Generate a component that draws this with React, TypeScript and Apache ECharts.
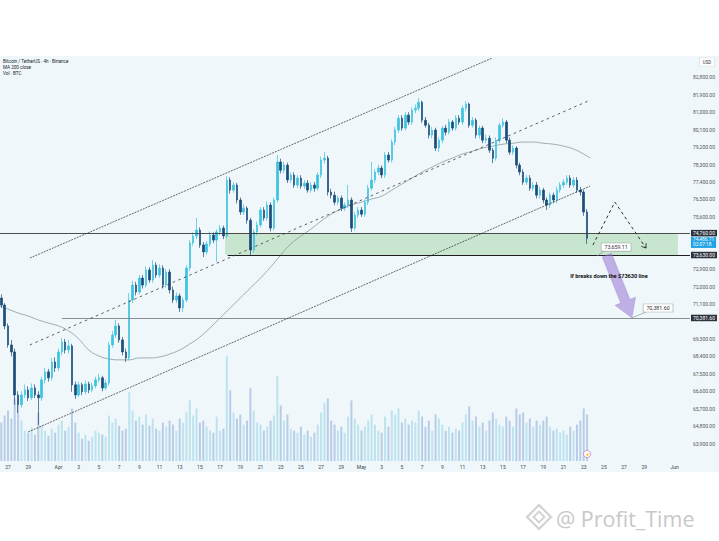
import React, { useEffect, useRef } from "react";
import * as echarts from "echarts";

// ---------- data ----------
const FIRST_CANDLE = Date.UTC(2024, 2, 26, 8);
const CANDLE_MS = 8 * 3600 * 1000;
const DAY_MS = 86400000;

// [open, close, low, high]
const ohlc: number[][] = [
  [71410, 71050, 70900, 71600], [71050, 69970, 69800, 71150], [69970, 68990, 68850, 70100], [68990, 68630, 68400, 69250],
  [68630, 66410, 65900, 68800], [66410, 65900, 65480, 66600], [65900, 66410, 65750, 66600], [66410, 66670, 66250, 66950],
  [66670, 66260, 66100, 66850], [66260, 66770, 66150, 67000], [66770, 66410, 66250, 66950], [66410, 66260, 64870, 66600],
  [66260, 67190, 66100, 67350], [67190, 67600, 67000, 67800], [67600, 67290, 67100, 67750], [67290, 68110, 67150, 68300],
  [68110, 67800, 67600, 68350], [67800, 68630, 67650, 68800], [68630, 69140, 68450, 69350], [69140, 68730, 68550, 69300],
  [68730, 68940, 68550, 69250], [68940, 66930, 66570, 69050], [66930, 66410, 66200, 67100], [66410, 66930, 66300, 67100],
  [66930, 66570, 66400, 67050], [66570, 66980, 66450, 67150], [66980, 66670, 66500, 67100], [66670, 66880, 66550, 67050],
  [66880, 67190, 66750, 67350], [67190, 67290, 67050, 67500], [67290, 66770, 66600, 67400], [66770, 67030, 66650, 67200],
  [67030, 68990, 66900, 69150], [68990, 69500, 68850, 69700], [69500, 69970, 69350, 70280], [69970, 69250, 69100, 70100],
  [69250, 68630, 68450, 69400], [68630, 68320, 68110, 68800], [68320, 71310, 68200, 71670], [71310, 72080, 71150, 72300],
  [72080, 71720, 71550, 72250], [71720, 72440, 71600, 72600], [72440, 72080, 71900, 72600], [72080, 72860, 71950, 73050],
  [72860, 72340, 72200, 73000], [72340, 73110, 72200, 73370], [73110, 72600, 72450, 73250], [72600, 72960, 72450, 73150],
  [72960, 72080, 71900, 73100], [72080, 72750, 71950, 72900], [72750, 71830, 71650, 72900], [71830, 71310, 71150, 72000],
  [71310, 71520, 71150, 71700], [71520, 70900, 70690, 71650], [70900, 71310, 70690, 71450], [71310, 72960, 71200, 73100],
  [72960, 74250, 72800, 74400], [74250, 74610, 74100, 74800], [74610, 74920, 74450, 75540], [74920, 74150, 74000, 75050],
  [74150, 73790, 73530, 74300], [73790, 74200, 73650, 74350], [74200, 74660, 74050, 74850], [74660, 74400, 74250, 74800],
  [74400, 74820, 73270, 74950], [74820, 75020, 74650, 75180], [75020, 74610, 74450, 75150], [74610, 77500, 74500, 77700],
  [77500, 76980, 76800, 77650], [76980, 77240, 76850, 77400], [77240, 76470, 76300, 77350], [76470, 75850, 75700, 76600],
  [75850, 76050, 75700, 76250], [76050, 75430, 75250, 76150], [75430, 73890, 73630, 75550], [73890, 74820, 73750, 74950],
  [74820, 75180, 74650, 75350], [75180, 75950, 75050, 76100], [75950, 75540, 75400, 76100], [75540, 76210, 75400, 76400],
  [76210, 75020, 74850, 76350], [75020, 76470, 74900, 76600], [76470, 78430, 76350, 78790], [78430, 78010, 77850, 78600],
  [78010, 78270, 77850, 78450], [78270, 77500, 77350, 78400], [77500, 77760, 77350, 77900], [77760, 77240, 77100, 77900],
  [77240, 77600, 77100, 77750], [77600, 77190, 77050, 77750], [77190, 77340, 77050, 77500], [77340, 76980, 76850, 77500],
  [76980, 77240, 76850, 77400], [77240, 77080, 76900, 77400], [77080, 77760, 76950, 77900], [77760, 78530, 77600, 78700],
  [78530, 78630, 78350, 78940], [78630, 76880, 76700, 78750], [76880, 76720, 76550, 77050], [76720, 76360, 76200, 76900],
  [76360, 76570, 76200, 76700], [76570, 76050, 75900, 76700], [76050, 76210, 75900, 76350], [76210, 76470, 76050, 77240],
  [76470, 75020, 74820, 76600], [75020, 75690, 74900, 75850], [75690, 75950, 75550, 76100], [75950, 75740, 75600, 76100],
  [75740, 76360, 75600, 76500], [76360, 77080, 76200, 77250], [77080, 77500, 76950, 78430], [77500, 77910, 77350, 78050],
  [77910, 78120, 77750, 78300], [78120, 77760, 77600, 78250], [77760, 78790, 77600, 78950], [78790, 78530, 78400, 78950],
  [78530, 79460, 78400, 79600], [79460, 80080, 79300, 80250], [80080, 80690, 79950, 80850], [80690, 80180, 80050, 80850],
  [80180, 80850, 80050, 81000], [80850, 80490, 80350, 81000], [80490, 81110, 80350, 81250], [81110, 81210, 80950, 81400],
  [81210, 81520, 81050, 81730], [81520, 80590, 80450, 81600], [80590, 80330, 80200, 80750], [80330, 79820, 79650, 80450],
  [79820, 80080, 79650, 80250], [80080, 79150, 79000, 80200], [79150, 79560, 78940, 79700], [79560, 80180, 79400, 80300],
  [80180, 79970, 79800, 80350], [79970, 80490, 79850, 80650], [80490, 80180, 80050, 80600], [80180, 80690, 80050, 80850],
  [80690, 80490, 80350, 80850], [80490, 81210, 80350, 81350], [81210, 81420, 81050, 81570], [81420, 80330, 80200, 81500],
  [80330, 80590, 80200, 80750], [80590, 79820, 79650, 80700], [79820, 80180, 79650, 80300], [80180, 79560, 79400, 80300],
  [79560, 79660, 79400, 79850], [79660, 79040, 78900, 79800], [79040, 78630, 78370, 79150], [78630, 79560, 78500, 79700],
  [79560, 80330, 79400, 80450], [80330, 80490, 80200, 80690], [80490, 79560, 79400, 80600], [79560, 78940, 78800, 79700],
  [78940, 79150, 78800, 79300], [79150, 78270, 78100, 79250], [78270, 77910, 77750, 78400], [77910, 77390, 77250, 78050],
  [77390, 77600, 77250, 77750], [77600, 77080, 76950, 77750], [77080, 77240, 76950, 77400], [77240, 76720, 76550, 77400],
  [76720, 76980, 76550, 77150], [76980, 76470, 76300, 77100], [76470, 76210, 75950, 76600], [76210, 76720, 76050, 76850],
  [76720, 76470, 76300, 76850], [76470, 76980, 76300, 77150], [76980, 77240, 76850, 77400], [77240, 77390, 77100, 77550],
  [77390, 77600, 77250, 77750], [77600, 77240, 77100, 77750], [77240, 77500, 77100, 77650], [77500, 76980, 76850, 77650],
  [76980, 76880, 76700, 77150], [76880, 75850, 75650, 77000], [75850, 74487, 74200, 76000],
];

const volume: number[] = [
  38, 45, 50, 42, 62, 55, 40, 30, 28, 33,
  26, 48, 35, 30, 25, 32, 28, 36, 40, 30,
  34, 52, 38, 28, 22, 26, 20, 24, 30, 28,
  26, 24, 45, 38, 42, 35, 30, 32, 68, 50,
  40, 44, 36, 46, 35, 42, 32, 30, 38, 34,
  40, 36, 30, 42, 38, 48, 60, 45, 52, 38,
  40, 34, 30, 28, 44, 30, 32, 104, 70, 48,
  42, 46, 36, 40, 72, 50, 38, 36, 30, 34,
  40, 45, 84, 55, 40, 46, 32, 30, 28, 34,
  26, 30, 24, 28, 36, 48, 58, 62, 40, 36,
  30, 34, 28, 44, 60, 42, 36, 30, 34, 40,
  46, 36, 30, 28, 44, 34, 50, 46, 52, 38,
  42, 36, 40, 38, 50, 44, 34, 40, 30, 46,
  42, 36, 30, 34, 28, 32, 30, 38, 46, 54,
  40, 44, 34, 38, 30, 40, 48, 42, 36, 34,
  44, 40, 34, 52, 46, 48, 38, 42, 34, 40,
  36, 40, 44, 34, 30, 32, 28, 30, 26, 34,
  30, 36, 40, 52, 46,
];

// daily moving average, from 2024-03-26 00:00 UTC
const MA_START = Date.UTC(2024, 2, 26);
const maDaily: number[] = [
  71050, 70840, 70640, 70480, 70280, 70120, 69970, 69710, 69300, 68730,
  68420, 68270, 68220, 68220, 68320, 68320, 68370, 68520, 68730, 69040,
  69400, 69870, 70380, 70900, 71410, 71930, 72440, 73010, 73630, 74200,
  74610, 74970, 75380, 75740, 76000, 76210, 76360, 76520, 76670, 76980,
  77290, 77600, 77910, 78170, 78430, 78630, 78840, 78990, 79150, 79250,
  79350, 79400, 79460, 79460, 79400, 79350, 79250, 79100, 78840,
];
const maLastTime = "2024-05-23T16:00:00Z";
const maLastValue = 78630;

const dateTicks: string[] = [
  "2024-03-27", "2024-03-29", "2024-04-01", "2024-04-03", "2024-04-05", "2024-04-07", "2024-04-09",
  "2024-04-11", "2024-04-13", "2024-04-15", "2024-04-17", "2024-04-19", "2024-04-21", "2024-04-23",
  "2024-04-25", "2024-04-27", "2024-04-29", "2024-05-01", "2024-05-03", "2024-05-05", "2024-05-07",
  "2024-05-09", "2024-05-11", "2024-05-13", "2024-05-15", "2024-05-17", "2024-05-19", "2024-05-21",
  "2024-05-23", "2024-05-25", "2024-05-27", "2024-05-29", "2024-06-01",
];
const MONTHS = ["Jan", "Feb", "Mar", "Apr", "May", "Jun", "Jul", "Aug", "Sep", "Oct", "Nov", "Dec"];

const X_MIN = "2024-03-26T05:00:00Z";
const X_MAX = "2024-06-02T12:36:00Z";
const Y_MIN = 63000;
const Y_MAX = 83850;
const Y_INTERVAL = 900;

// levels & drawings
const zoneTop = 74760;
const zoneBottom = 73630;
const targetLevel = 70381.6;
const lastPrice = 74486.71;
const countdown = "02:07:18";
const zoneFrom = "2024-04-17T12:00:00Z";
const zoneTo = "2024-06-01T08:00:00Z";
const topLineFrom = X_MIN;
const bottomLineFrom = "2024-04-17T18:00:00Z";
const targetLineFrom = "2024-04-01T08:00:00Z";
const channelUpper: [string, number][] = [["2024-03-29T04:00:00Z", 73475], ["2024-05-13T22:00:00Z", 83790]];
const channelLower: [string, number][] = [["2024-03-29T00:00:00Z", 64500], ["2024-05-23T15:00:00Z", 77190]];
const channelMid: [string, number][] = [["2024-03-29T04:00:00Z", 68990], ["2024-05-23T15:00:00Z", 81620]];
const projection: [string, number][] = [
  ["2024-05-23T22:00:00Z", 74146],
  ["2024-05-26T02:00:00Z", 76363],
  ["2024-05-29T04:00:00Z", 73990],
];
const arrowTail: [string, number] = ["2024-05-25T07:00:00Z", 73630];
const arrowTip: [string, number] = ["2024-05-27T18:45:00Z", 70381.6];
const note1: { text: string; at: [string, number]; tip: [string, number] } = {
  text: "73,659.11", at: ["2024-05-26T05:00:00Z", 74043], tip: ["2024-05-24T08:00:00Z", 73578],
};
const note2: { text: string; at: [string, number]; tip: [string, number] } = {
  text: "70,381.60", at: ["2024-05-30T08:40:00Z", 70897], tip: ["2024-05-27T18:45:00Z", 70381.6],
};
const caption: { text: string; at: [string, number] } = {
  text: "If breaks down the $73630 line", at: ["2024-05-25T12:00:00Z", 72547],
};
const eventMark: [string, number] = ["2024-05-23T08:00:00Z", 63360];

const headerLines = ["Bitcoin / TetherUS · 4h · Binance", "MA 200 close", "Vol · BTC"];
const watermark = "@ Profit_Time";

// ---------- helpers ----------
const T = (s: string) => Date.parse(s.length === 10 ? s + "T00:00:00Z" : s);
const fmt = (v: number) => v.toLocaleString("en-US", { minimumFractionDigits: 2, maximumFractionDigits: 2 });
const boxedLevels = [zoneTop, zoneBottom, targetLevel, lastPrice];

const UP = "#3cc3df";
const DOWN = "#1d4c78";
const FONT = "Roboto, 'Noto Sans', sans-serif";

export default function App() {
  const ref = useRef<HTMLDivElement>(null);

  useEffect(() => {
    if (!ref.current) return;
    const chart = echarts.init(ref.current, null, { renderer: "svg" });

    const candleData = ohlc.map((c, i) => [FIRST_CANDLE + i * CANDLE_MS, c[0], c[1], c[2], c[3]]);
    const volData = volume.map((v, i) => ({
      value: [FIRST_CANDLE + i * CANDLE_MS, v],
      itemStyle: { color: ohlc[i][1] >= ohlc[i][0] ? "rgba(120,200,225,0.42)" : "rgba(110,145,205,0.42)" },
    }));
    const maData = maDaily.map((v, i) => [MA_START + i * DAY_MS, v]);
    maData.push([T(maLastTime), maLastValue]);

    const boxLabel = (text: string) => ({
      show: true,
      position: "end",
      distance: 1,
      formatter: text,
      backgroundColor: "#2d313c",
      color: "#ffffff",
      fontSize: 5,
      fontFamily: FONT,
      padding: [1, 2, 0.5, 2],
    });

    const seg = (a: [number, number], b: [number, number], lineStyle: any, label: any = { show: false }) => [
      { coord: a, lineStyle, label },
      { coord: b },
    ];

    const xMaxT = T(X_MAX);

    chart.setOption({
      animation: false,
      textStyle: { fontFamily: FONT },
      grid: { left: 0, right: 29, top: 57, bottom: 80 },
      xAxis: {
        type: "value",
        min: T(X_MIN),
        max: xMaxT,
        axisLine: { show: false },
        axisTick: { show: false },
        splitLine: { show: false },
        axisLabel: {
          customValues: dateTicks.map(T),
          fontSize: 5,
          color: "#444",
          margin: 3,
          formatter: (v: number) => {
            const d = new Date(v);
            return d.getUTCDate() === 1 ? MONTHS[d.getUTCMonth()] : String(d.getUTCDate());
          },
        },
      },
      yAxis: [
        {
          type: "value",
          position: "right",
          min: Y_MIN,
          max: Y_MAX,
          interval: Y_INTERVAL,
          axisLine: { show: false },
          axisTick: { show: false },
          splitLine: { show: false },
          axisLabel: {
            fontSize: 5,
            color: "#555",
            margin: 3,
            showMaxLabel: false,
            formatter: (v: number) =>
              v > 83000 || v < 63500 || boxedLevels.some((l) => Math.abs(l - v) < 420) ? "" : fmt(v),
          },
        },
        { type: "value", min: 0, max: 400, show: false },
      ],
      series: [
        {
          type: "bar",
          yAxisIndex: 1,
          data: volData,
          barWidth: 2,
          silent: true,
          z: 1,
        },
        {
          type: "line",
          data: maData,
          showSymbol: false,
          smooth: true,
          lineStyle: { color: "#8a9aa0", width: 0.8 },
          silent: true,
          z: 2,
        },
        {
          type: "candlestick",
          data: candleData,
          encode: { x: 0, y: [1, 2, 3, 4] },
          barWidth: 2,
          z: 3,
          itemStyle: { color: UP, color0: DOWN, borderColor: UP, borderColor0: DOWN, borderWidth: 0.7 },
          markArea: {
            silent: true,
            itemStyle: { color: "rgba(130,200,130,0.36)" },
            data: [[{ coord: [T(zoneFrom), zoneTop] }, { coord: [T(zoneTo), zoneBottom] }]],
          },
          markLine: {
            silent: true,
            symbol: ["none", "none"],
            data: [
              seg([T(topLineFrom), zoneTop], [xMaxT, zoneTop], { color: "#3a3a3a", width: 0.9, type: "solid" }, boxLabel(fmt(zoneTop))),
              seg([T(bottomLineFrom), zoneBottom], [xMaxT, zoneBottom], { color: "#1e1e1e", width: 1.1, type: "solid" }, boxLabel(fmt(zoneBottom))),
              seg([T(targetLineFrom), targetLevel], [xMaxT, targetLevel], { color: "#6e7478", width: 0.8, type: "solid" }, boxLabel(fmt(targetLevel))),
              seg([T(channelUpper[0][0]), channelUpper[0][1]], [T(channelUpper[1][0]), channelUpper[1][1]], { color: "#2b2b2b", width: 0.7, type: [2, 1] }),
              seg([T(channelLower[0][0]), channelLower[0][1]], [T(channelLower[1][0]), channelLower[1][1]], { color: "#2b2b2b", width: 0.7, type: [2, 1] }),
              seg([T(channelMid[0][0]), channelMid[0][1]], [T(channelMid[1][0]), channelMid[1][1]], { color: "#333", width: 0.8, type: [2.5, 3.5] }),
            ],
          },
        },
      ],
    });

    const px = (t: string, p: number) => chart.convertToPixel({ gridIndex: 0 }, [T(t), p]) as number[];
    const g: any[] = [];

    g.push({ type: "rect", z: -10, silent: true, shape: { x: 0, y: 56, width: 719, height: 416 }, style: { fill: "#eff7fa" } });
    headerLines.forEach((line, i) => {
      g.push({
        type: "text", z: 50, silent: true,
        style: { text: line, x: 3, y: 61 + i * 6, fill: "#1a1d26", font: `4.6px ${FONT}`, verticalAlign: "middle" },
      });
    });
    g.push({
      type: "text", z: 50, silent: true,
      style: {
        text: "USD", x: 707, y: 62, align: "center", verticalAlign: "middle", fill: "#333", font: `4.5px ${FONT}`,
        backgroundColor: "#ffffff", borderColor: "#d5dadd", borderWidth: 0.6, padding: [1.5, 3, 1, 3],
      },
    });

    // projection path
    const pts = projection.map(([t, p]) => px(t, p));
    g.push({
      type: "polyline", z: 60, silent: true,
      shape: { points: pts },
      style: { stroke: "#1b1b1b", lineWidth: 0.9, lineDash: [3, 3], fill: null },
    });
    {
      const a = pts[pts.length - 2];
      const b = pts[pts.length - 1];
      const dx = b[0] - a[0], dy = b[1] - a[1];
      const L = Math.hypot(dx, dy);
      const ux = dx / L, uy = dy / L;
      const h = 4;
      g.push({
        type: "polyline", z: 60, silent: true,
        shape: { points: [[b[0] - ux * h - uy * h * 0.7, b[1] - uy * h + ux * h * 0.7], b, [b[0] - ux * h + uy * h * 0.7, b[1] - uy * h - ux * h * 0.7]] },
        style: { stroke: "#1b1b1b", lineWidth: 0.8, fill: null },
      });
    }

    // big arrow
    {
      const a = px(arrowTail[0], arrowTail[1]);
      const b = px(arrowTip[0], arrowTip[1]);
      const dx = b[0] - a[0], dy = b[1] - a[1];
      const L = Math.hypot(dx, dy);
      const ux = dx / L, uy = dy / L;
      const nx = -uy, ny = ux;
      const headLen = 18, headHalf = 11, shaftHalf = 5;
      const bx = b[0] - ux * headLen, by = b[1] - uy * headLen;
      g.push({
        type: "polygon", z: 55, silent: true,
        shape: {
          points: [
            [a[0] + nx * shaftHalf, a[1] + ny * shaftHalf],
            [bx + nx * shaftHalf, by + ny * shaftHalf],
            [bx + nx * headHalf, by + ny * headHalf],
            b,
            [bx - nx * headHalf, by - ny * headHalf],
            [bx - nx * shaftHalf, by - ny * shaftHalf],
            [a[0] - nx * shaftHalf, a[1] - ny * shaftHalf],
          ],
        },
        style: { fill: "rgba(150,118,212,0.55)", stroke: "rgba(130,100,200,0.55)", lineWidth: 0.5 },
      });
    }

    // price notes
    [note1, note2].forEach((n) => {
      const c = px(n.at[0], n.at[1]);
      const tip = px(n.tip[0], n.tip[1]);
      g.push({
        type: "line", z: 61, silent: true,
        shape: { x1: c[0] - 12, y1: c[1] + 4, x2: tip[0], y2: tip[1] },
        style: { stroke: "#8d969b", lineWidth: 0.7 },
      });
      g.push({
        type: "text", z: 62, silent: true,
        style: {
          text: n.text, x: c[0], y: c[1], align: "center", verticalAlign: "middle", fill: "#333",
          font: `5.3px ${FONT}`, backgroundColor: "#ffffff", borderColor: "#9aa3a8", borderWidth: 0.6,
          padding: [1.5, 3, 1, 3],
        },
      });
    });

    {
      const c = px(caption.at[0], caption.at[1]);
      g.push({
        type: "text", z: 62, silent: true,
        style: { text: caption.text, x: c[0], y: c[1], align: "center", verticalAlign: "middle", fill: "#111", font: `bold 5.6px ${FONT}` },
      });
    }

    // current price box (stacked under the zone-top box, as TradingView does)
    {
      const c = px(X_MAX, lastPrice);
      g.push({
        type: "text", z: 70, silent: true,
        style: {
          text: `${fmt(lastPrice)}\n${countdown}`, x: 691, y: c[1] + 4, align: "left", verticalAlign: "middle",
          fill: "#ffffff", font: `4.8px ${FONT}`, lineHeight: 5, backgroundColor: "#1fa3e4", padding: [0.5, 2, 0.5, 2],
        },
      });
    }

    // event marker
    {
      const c = px(eventMark[0], eventMark[1]);
      g.push({
        type: "circle", z: 62, silent: true,
        shape: { cx: c[0], cy: c[1], r: 3.6 },
        style: { fill: "#ffffff", stroke: "#c77fd0", lineWidth: 0.8 },
      });
      g.push({
        type: "text", z: 63, silent: true,
        style: { text: "⚡", x: c[0], y: c[1], align: "center", verticalAlign: "middle", fill: "#b366c0", font: `4px ${FONT}` },
      });
    }

    // watermark
    g.push({
      type: "group", z: 80, silent: true,
      children: [
        {
          type: "polygon",
          shape: { points: [[539, 505], [551, 517], [539, 529], [527, 517]] },
          style: { fill: null, stroke: "#d2d2d2", lineWidth: 2.2 },
        },
        {
          type: "polygon",
          shape: { points: [[539, 511.5], [544.5, 517], [539, 522.5], [533.5, 517]] },
          style: { fill: null, stroke: "#d2d2d2", lineWidth: 1.8 },
        },
        {
          type: "text",
          style: { text: watermark, x: 556, y: 518, align: "left", verticalAlign: "middle", fill: "#c8c8c8", font: `21.5px 'Open Sans', ${FONT}` },
        },
      ],
    });

    chart.setOption({ graphic: g });

    return () => chart.dispose();
  }, []);

  return (
    <div
      ref={ref}
      style={{ position: "fixed", left: 0, top: 0, width: 719, height: 541, background: "#ffffff" }}
    />
  );
}
